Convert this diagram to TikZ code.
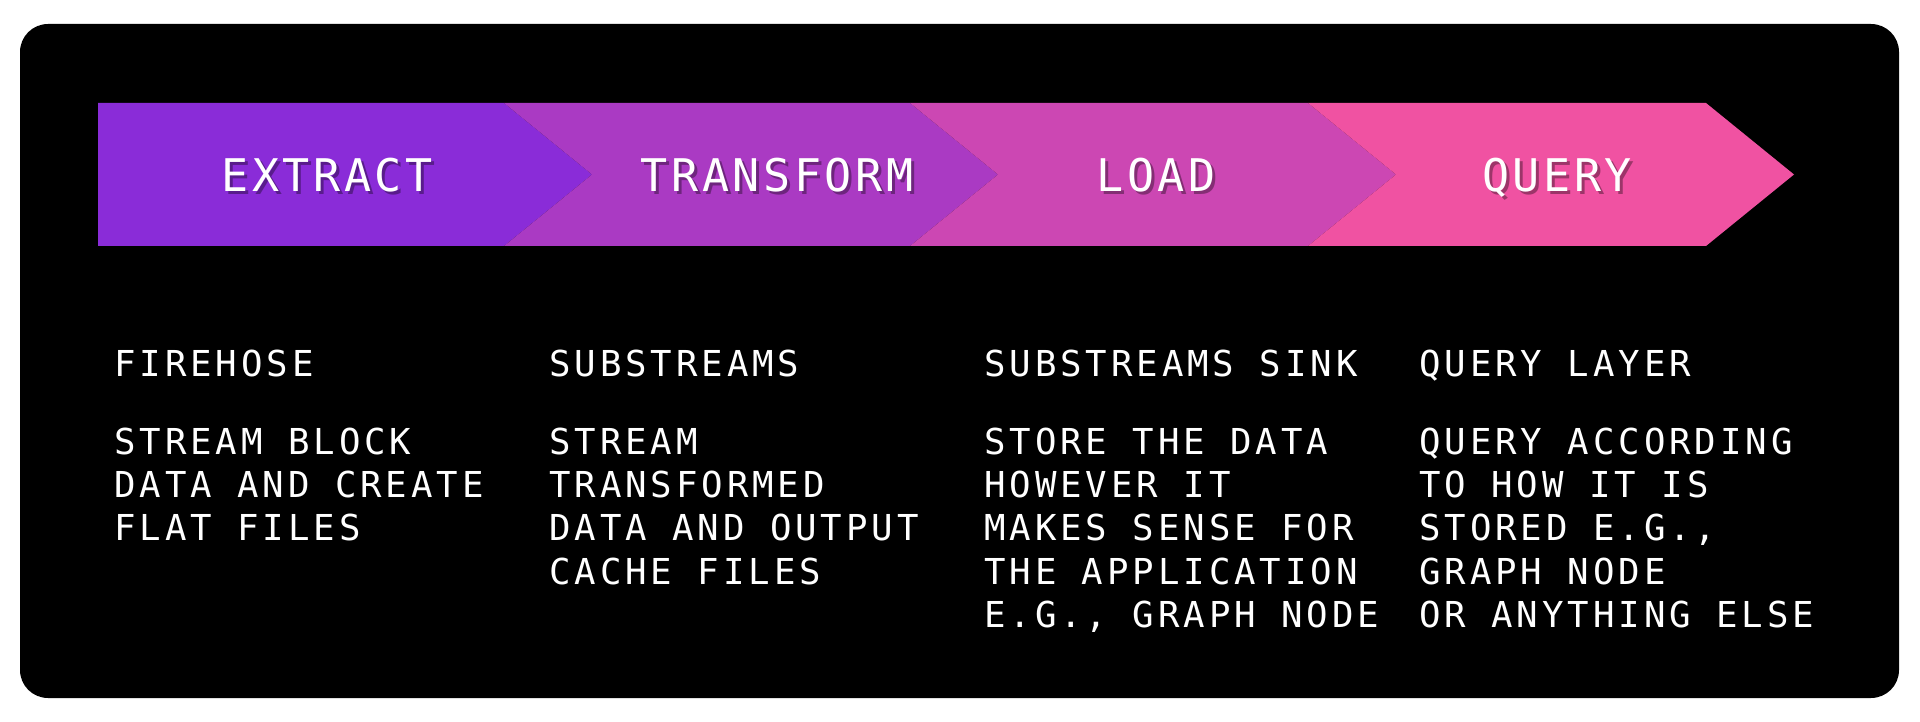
\documentclass[tikz,border=0pt]{standalone}
\usepackage{fontspec}
\usepackage{tikz}
\usetikzlibrary{calc,positioning}
\newfontfamily\bodyfont[LetterSpace=11]{DejaVu Sans Mono}
\newfontfamily\headfont[LetterSpace=8]{DejaVu Sans Mono}
\definecolor{cA}{RGB}{138,44,216}
\definecolor{cB}{RGB}{170,58,195}
\definecolor{cC}{RGB}{204,71,179}
\definecolor{cD}{RGB}{240,82,162}
\tikzset{
	ttl/.style={text=white, font=\headfont\fontsize{45}{54}\selectfont, inner sep=0pt, anchor=base},
	shd/.style={text=black, text opacity=0.35},
	txt/.style={text=white, font=\bodyfont\fontsize{35.7}{43.3}\selectfont, inner sep=0pt, anchor=base west},
}
\begin{document}
\begin{tikzpicture}[x=1pt,y=-1pt]
		\useasboundingbox (0,0) rectangle (1920,722);
		\fill[white] (0,0) rectangle (1920,722);
		\fill[black,rounded corners=28pt] (20,24) rectangle (1899,698);
		% chevrons
		\foreach \l/\n/\r/\c in {98/98/504/cA,504/592/910/cB,910/998/1308/cC,1308/1396/1706/cD}
		\fill[\c] (\l,103) -- (\r,103) -- (\r+88,174.5) -- (\r,246) -- (\l,246) -- (\n,174.5) -- cycle;
		\foreach \x/\t/\n in {327/EXTRACT/ext,777/TRANSFORM/trf,1156/LOAD/ld,1557/QUERY/qry}
		{\node[ttl,shd] (\n s) at (\x+3,194.5) {\t};
		\node[ttl] (\n) at (\x,191.5) {\t};}
		% columns
		\def\lh{43.3}
		\node[txt] (fh) at (114,376.7) {FIREHOSE};
		\foreach \t [count=\i] in {STREAM BLOCK,DATA AND CREATE,FLAT FILES}
		\node[txt] (fh\i) at (114,411+\lh*\i) {\t};
		\node[txt] (ss) at (549,376.7) {SUBSTREAMS};
		\foreach \t [count=\i] in {STREAM,TRANSFORMED,DATA AND OUTPUT,CACHE FILES}
		\node[txt] (ss\i) at (549,411+\lh*\i) {\t};
		\node[txt] (sk) at (984,376.7) {SUBSTREAMS SINK};
		\foreach \t [count=\i] in {STORE THE DATA,HOWEVER IT,MAKES SENSE FOR,THE APPLICATION,{E.G., GRAPH NODE}}
		\node[txt] (sk\i) at (984,411+\lh*\i) {\t};
		\node[txt] (ql) at (1419,376.7) {QUERY LAYER};
		\foreach \t [count=\i] in {QUERY ACCORDING,TO HOW IT IS,{STORED E.G.,},GRAPH NODE,OR ANYTHING ELSE}
		\node[txt] (ql\i) at (1419,411+\lh*\i) {\t};
%		\draw[red] (986,350) -- (1400,350);
	\end{tikzpicture}
\end{document}
